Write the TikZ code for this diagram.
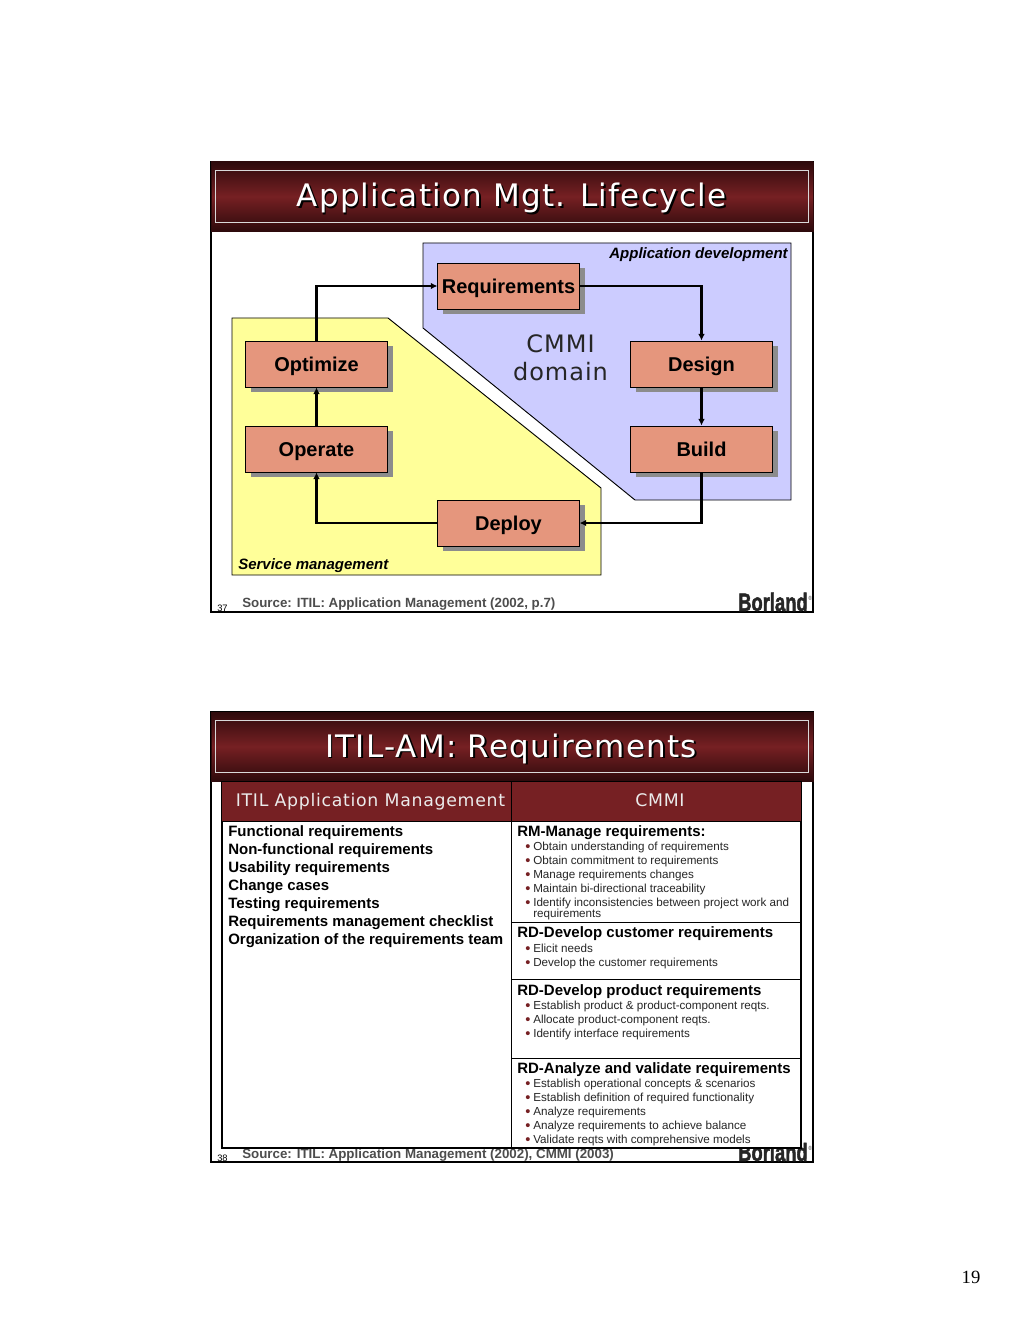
\documentclass[tikz,border=0pt]{standalone}
\usepackage{fontspec}
\setmainfont{Liberation Sans}
\newfontfamily\slidefont[LetterSpace=4]{DejaVu Sans}
\newfontfamily\pagefont{Liberation Serif}
\newfontfamily\logofont[BoldFeatures={FakeBold=2}]{Liberation Sans}
\usetikzlibrary{arrows.meta,shadows}
\definecolor{wine}{HTML}{762023}
\definecolor{winedark}{HTML}{2E0A0C}
\definecolor{boxsalmon}{HTML}{E5967D}
\definecolor{areayellow}{HTML}{FFFF99}
\definecolor{areablue}{HTML}{CCCCFF}
\definecolor{sourcegray}{HTML}{4D4D4D}
\tikzset{>=latex}
\tikzset{
    stagebox/.style={draw=black, fill=boxsalmon, line width=0.6pt, minimum width=106pt, minimum height=34.5pt, inner sep=0pt,
        text height=11.5pt, text depth=0pt,
        font=\fontsize{15}{17}\selectfont\bfseries, drop shadow={shadow xshift=4pt, shadow yshift=-4pt, fill=black!45, opacity=1}},
    flow/.style={-{Latex[length=5pt,width=5pt]}, line width=2.2pt},
    area/.style={draw=black, line width=0.7pt},
    slideframe/.style={draw=black, fill=white, line width=0.9pt},
    titlebar/.style={top color=winedark, bottom color=winedark, middle color=wine, draw=winedark},
    titleline/.style={draw=white!85!black, line width=0.5pt},
    titletext/.style={anchor=base, font=\slidefont\fontsize{23.25}{28}\selectfont, text=white, inner sep=0pt},
    titleshade/.style={anchor=base, font=\slidefont\fontsize{23.25}{28}\selectfont, text=black, inner sep=0pt},
    areatext/.style={font=\fontsize{11.25}{13}\selectfont\bfseries\itshape, inner sep=0pt},
    sourcetext/.style={anchor=base west, inner sep=0pt, text=sourcegray, font=\fontsize{10}{11}\selectfont\bfseries},
    slidenum/.style={anchor=base west, inner sep=0pt, font=\fontsize{7}{8}\selectfont},
    logotext/.style={anchor=base west, inner sep=0pt, xscale=0.73, font=\logofont\fontsize{18.9}{19}\selectfont\bfseries, text=black!85},
    headcell/.style={anchor=base, font=\slidefont\fontsize{13}{15}\selectfont, text=white!92!black, inner sep=0pt},
    reqtext/.style={anchor=base west, inner sep=0pt, font=\fontsize{11.25}{13}\selectfont\bfseries},
    subtext/.style={anchor=base west, inner sep=0pt, font=\fontsize{8.74}{10}\selectfont, text=black!85},
}
\newcommand{\bul}{\makebox[6pt][l]{\textcolor{wine}{\fontsize{11}{10}\selectfont\raisebox{-0.9pt}{\textbullet}}}}
\newcommand{\regmark}{\raisebox{8pt}{\kern1pt\mdseries\fontsize{4.5}{5}\selectfont ®}}

\begin{document}
\begin{tikzpicture}[x=0.75pt,y=-0.75pt]
    \useasboundingbox (0,0) rectangle (1024,1326);

    % upper slide
    \begin{scope}
        \draw[slideframe] (211,162) rectangle (813,612);
        \shade[titlebar] (211,162) rectangle (813,231);
        \draw[titleline] (215,170) rectangle (808,222);
        \node[titleshade] (shadeA) at (513.3,208.8) {Application Mgt. Lifecycle};
        \node[titletext] (titleA) at (511.5,207) {Application Mgt. Lifecycle};

        \filldraw[area, fill=areayellow] (232,318) -- (388,318) -- (601,488) -- (601,575) -- (232,575) -- cycle;
        \filldraw[area, fill=areablue] (423,243) -- (791,243) -- (791,500) -- (635,500) -- (423,328) -- cycle;
        \node[areatext, anchor=base east] (appdev) at (788,259) {Application development};
        \node[areatext, anchor=base west] (svcmgt) at (238,569) {Service management};
        \node[font=\slidefont\fontsize{18}{21}\selectfont, text=black!85, align=center, inner sep=0pt] (domain) at (560.5,358) {CMMI\\domain};

        \node[stagebox] (req) at (508.5,286) {Requirements};
        \node[stagebox] (opt) at (316.5,364) {Optimize};
        \node[stagebox] (des) at (701.5,364) {Design};
        \node[stagebox] (ope) at (316.5,449) {Operate};
        \node[stagebox] (bui) at (701.5,449) {Build};
        \node[stagebox] (dep) at (508.5,523) {Deploy};

        \draw[flow] (opt.north) |- (req.west);
        \draw[flow] (req.east) -| (des.north);
        \draw[flow] (des.south) -- (bui.north);
        \draw[flow] (bui.south) |- (dep.east);
        \draw[flow] (dep.west) -| (ope.south);
        \draw[flow] (ope.north) -- (opt.south);

        \node[slidenum] (numA) at (217,611) {37};
        \node[sourcetext] (srcA) at (242,607) {Source: ITIL: Application Management (2002, p.7)};
        \node[logotext] (logoA) at (738,611) {Borland\regmark};
    \end{scope}

    % lower slide
    \begin{scope}
        \draw[slideframe] (211,712) rectangle (813,1162);
        \node[slidenum] (numB) at (217,1161) {38};
        \node[sourcetext] (srcB) at (242,1158) {Source: ITIL: Application Management (2002), CMMI (2003)};
        \node[logotext] (logoB) at (738,1161) {Borland\regmark};

        \shade[titlebar] (211,712) rectangle (813,781);
        \draw[titleline] (215,720) rectangle (808,772);
        \node[titleshade] (shadeB) at (512.8,758.8) {ITIL-AM: Requirements};
        \node[titletext] (titleB) at (511,757) {ITIL-AM: Requirements};

        \filldraw[fill=white, draw=black, line width=1.4pt] (222,782) rectangle (801,1148);
        \fill[wine] (222,782) rectangle (801,821);
        \draw[line width=0.6pt] (222,821) -- (801,821);
        \draw[line width=0.6pt] (511.5,782) -- (511.5,1148);
        \foreach \y in {922,979,1058}
            \draw[line width=0.6pt] (511.5,\y) -- (801,\y);
        \node[headcell] (headL) at (370.5,806) {ITIL Application Management};
        \node[headcell] (headR) at (660,806) {CMMI};

        \foreach \y/\t in {836/Functional requirements,854/Non-functional requirements,872/Usability requirements,890/Change cases,908/Testing requirements,926/Requirements management checklist,944/Organization of the requirements team}
            \node[reqtext] (left\y) at (228,\y) {\t};

        \foreach \y/\t in {836/RM-Manage requirements:,937/RD-Develop customer requirements,995/RD-Develop product requirements,1073/RD-Analyze and validate requirements}
            \node[reqtext] (right\y) at (517,\y) {\t};

        \foreach \y/\t in {850/Obtain understanding of requirements,864/Obtain commitment to requirements,878/Manage requirements changes,892/Maintain bi-directional traceability,906/Identify inconsistencies between project work and,952/Elicit needs,966/Develop the customer requirements,1009/Establish product \& product-component reqts.,1023/Allocate product-component reqts.,1037/Identify interface requirements,1087/Establish operational concepts \& scenarios,1101/Establish definition of required functionality,1115/Analyze requirements,1129/Analyze requirements to achieve balance,1143/Validate reqts with comprehensive models}
            \node[subtext] (item\y) at (525,\y) {\bul\t};
        \node[subtext] (itemwrap) at (533,917) {requirements};
    \end{scope}

    \node[font=\pagefont\fontsize{14}{16}\selectfont, inner sep=0pt] (page) at (971,1277) {19};
\end{tikzpicture}
\end{document}
